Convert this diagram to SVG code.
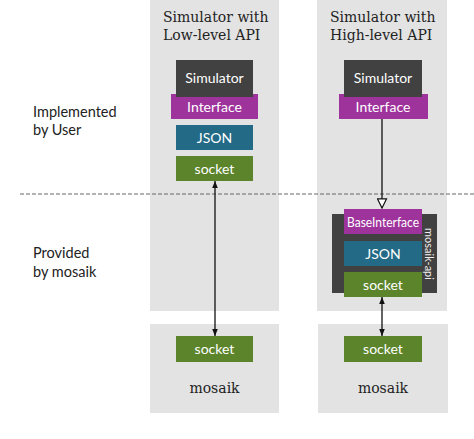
<svg xmlns="http://www.w3.org/2000/svg" width="474" height="439" viewBox="0 0 474 439">
<style>
.panel{fill:#e3e3e3}
.title{font-family:"DejaVu Serif",serif;font-size:14px;fill:#222}
.side{font-family:Lato,"Liberation Sans",sans-serif;font-size:14.5px;fill:#222}
.lbl{font-family:Lato,"Liberation Sans",sans-serif;font-size:14px;fill:#fff;text-anchor:middle}
.sim{fill:#414141}
.ifc{fill:#9e339c}
.json{fill:#236a86}
.sock{fill:#5b842b}
.conn{stroke:#111;stroke-width:1.3;fill:none}
</style>
<defs>
<marker id="ah" viewBox="0 0 10 10" refX="10" refY="5" markerWidth="7" markerHeight="7" orient="auto-start-reverse" markerUnits="userSpaceOnUse">
<path d="M0,1 L10,5 L0,9 Z" fill="#111"/>
</marker>
<marker id="tri" viewBox="0 0 12 12" refX="11" refY="6" markerWidth="11" markerHeight="11" orient="auto" markerUnits="userSpaceOnUse">
<path d="M1,1 L11,6 L1,11 Z" fill="#fff" stroke="#111" stroke-width="1.3"/>
</marker>
</defs>
<rect width="474" height="439" fill="#fff"/>
<g id="panels">
<rect class="panel" x="150" y="0" width="129" height="311"/>
<rect class="panel" x="317" y="0" width="130" height="311"/>
<rect class="panel" x="150" y="324" width="129" height="89"/>
<rect class="panel" x="318" y="324" width="130" height="89"/>
</g>
<g id="titles">
<text class="title" x="163" y="22">Simulator with</text>
<text class="title" x="163" y="40">Low-level API</text>
<text class="title" x="330" y="22">Simulator with</text>
<text class="title" x="330" y="40">High-level API</text>
</g>
<g id="sidelabels">
<text class="side" x="33" y="117">Implemented</text>
<text class="side" x="33" y="135">by User</text>
<text class="side" x="33" y="258">Provided</text>
<text class="side" x="33" y="277">by mosaik</text>
</g>
<line id="divider" x1="20" y1="194" x2="474" y2="194" stroke="#666" stroke-width="1" stroke-dasharray="4 2"/>
<g id="left-interface"><rect class="ifc" x="171" y="94" width="87" height="25"/><text class="lbl" x="214.5" y="112">Interface</text></g>
<g id="left-simulator"><rect class="sim" x="176" y="60" width="77" height="37"/><text class="lbl" x="214.5" y="83">Simulator</text></g>
<g id="left-json"><rect class="json" x="176" y="125" width="77" height="25"/><text class="lbl" x="214.5" y="143">JSON</text></g>
<g id="left-socket"><rect class="sock" x="176" y="156" width="77" height="25"/><text class="lbl" x="214.5" y="174">socket</text></g>
<g id="right-interface"><rect class="ifc" x="339" y="94" width="89" height="25"/><text class="lbl" x="383" y="112">Interface</text></g>
<g id="right-simulator"><rect class="sim" x="344" y="60" width="78" height="37"/><text class="lbl" x="383" y="83">Simulator</text></g>
<g id="mosaik-api"><rect class="sim" x="332" y="214" width="105" height="79"/><text x="429" y="254" transform="rotate(90 429 254)" font-family="Lato,'Liberation Sans',sans-serif" font-size="11" fill="#eee" text-anchor="middle" dominant-baseline="central">mosaik-api</text></g>
<g id="baseinterface"><rect class="ifc" x="344" y="209" width="78" height="25"/><text class="lbl" x="383" y="227" textLength="72" lengthAdjust="spacingAndGlyphs">BaseInterface</text></g>
<g id="right-json"><rect class="json" x="344" y="241" width="78" height="25"/><text class="lbl" x="383" y="259">JSON</text></g>
<g id="right-socket"><rect class="sock" x="344" y="272" width="78" height="25"/><text class="lbl" x="383" y="290">socket</text></g>
<g id="left-mosaik-socket"><rect class="sock" x="176" y="336" width="77" height="26"/><text class="lbl" x="214.5" y="354">socket</text></g>
<g id="right-mosaik-socket"><rect class="sock" x="344" y="336" width="78" height="26"/><text class="lbl" x="383" y="354">socket</text></g>
<g id="mosaik-labels">
<text class="title" x="214.5" y="393" text-anchor="middle">mosaik</text>
<text class="title" x="383" y="393" text-anchor="middle">mosaik</text>
</g>
<g id="connectors">
<line class="conn" x1="215" y1="181" x2="215" y2="336" marker-start="url(#ah)" marker-end="url(#ah)"/>
<line class="conn" x1="382" y1="119" x2="382" y2="208" marker-end="url(#tri)"/>
<line class="conn" x1="382" y1="297" x2="382" y2="336" marker-start="url(#ah)" marker-end="url(#ah)"/>
</g>
</svg>
